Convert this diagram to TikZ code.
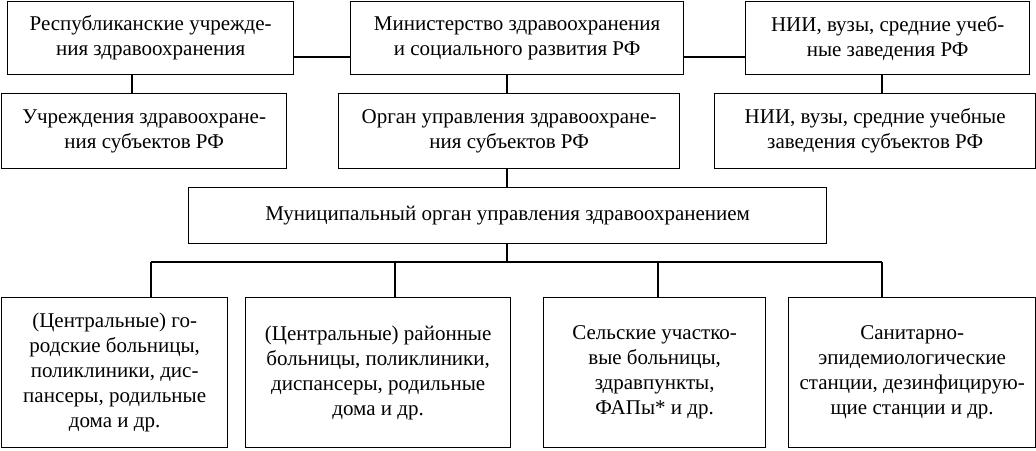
\documentclass[tikz,border=0pt]{standalone}
\usepackage{fontspec}
\setmainfont{Liberation Serif}
\begin{document}
\begin{tikzpicture}[x=1pt,y=-1pt,line width=1.3pt,
  bx/.style={draw,inner sep=0pt,align=center,font=\fontsize{21}{25}\selectfont},
  ln/.style={line width=1.3pt}]
\useasboundingbox (0,0) rectangle (1036,450);
\newcommand\mybox[6]{\node[bx,minimum width=#4-#2,minimum height=#5-#3,anchor=north west] (#1) at (#2,#3) {#6};}
\mybox{A}{7}{1}{293}{74}{Республиканские учрежде-\\ния здравоохранения}
\mybox{B}{350}{1}{683}{74}{Министерство здравоохранения\\и социального развития РФ}
\mybox{C}{745}{1}{1029}{74}{НИИ, вузы, средние учеб-\\ные заведения РФ}
\mybox{D}{1}{93}{286}{168}{Учреждения здравоохране-\\ния субъектов РФ}
\mybox{E}{338}{93}{679}{168}{Орган управления здравоохране-\\ния субъектов РФ}
\mybox{F}{714}{93}{1035}{168}{НИИ, вузы, средние учебные\\заведения субъектов РФ}
\mybox{G}{188}{187}{826}{243}{Муниципальный орган управления здравоохранением}
\mybox{H}{1}{297}{227}{447}{(Центральные) го-\\родские больницы,\\поликлиники, дис-\\пансеры, родильные\\дома и др.}
\mybox{I}{245}{297}{510}{447}{(Центральные) районные\\больницы, поликлиники,\\диспансеры, родильные\\дома и др.}
\mybox{J}{543}{297}{765}{447}{Сельские участко-\\вые больницы,\\здравпункты,\\ФАПы* и др.}
\mybox{K}{788}{297}{1035}{447}{Санитарно-\\эпидемиологические\\станции, дезинфицирую-\\щие станции и др.}
\coordinate (bus) at (507,262);
\coordinate (bl) at (151,262);
\coordinate (br) at (882,262);
\draw[ln] (A.east|-0,57) -- (B.west|-0,57);
\draw[ln] (B.east|-0,57) -- (C.west|-0,57);
\draw[ln] (A.south-|132,0) -- (D.north-|132,0);
\draw[ln] (B.south-|507,0) -- (E.north-|507,0);
\draw[ln] (C.south-|882,0) -- (F.north-|882,0);
\draw[ln] (E.south-|507,0) -- (G.north-|507,0);
\draw[ln] (G.south-|507,0) -- (bus);
\draw[ln] (bl) -- (br);
\draw[ln] (bl) -- (H.north-|bl);
\draw[ln] (395,262) -- (I.north-|395,0);
\draw[ln] (658,262) -- (J.north-|658,0);
\draw[ln] (br) -- (K.north-|br);
\end{tikzpicture}
\end{document}
